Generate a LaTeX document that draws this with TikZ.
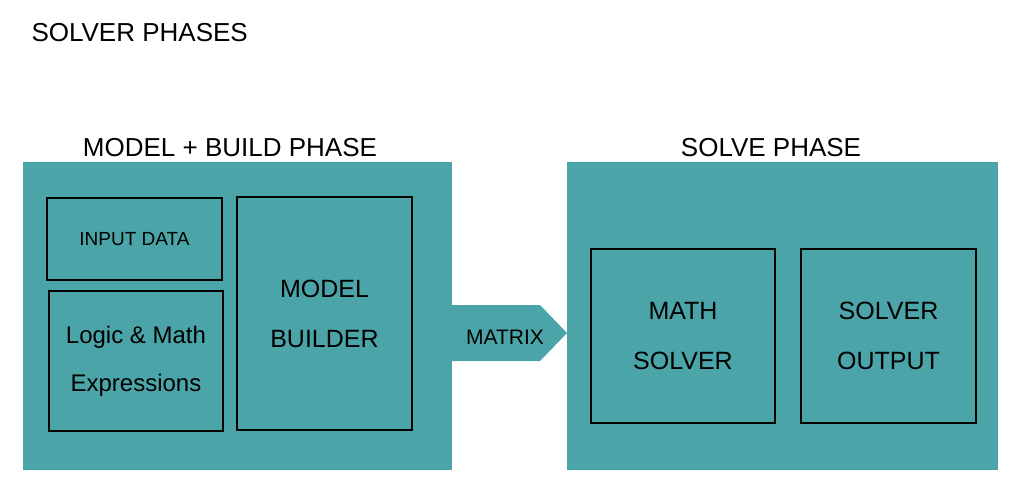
\documentclass[tikz,border=0pt]{standalone}
\usepackage{fontspec}
\setmainfont{Liberation Sans}
\definecolor{teal1}{HTML}{4BA5A8}
\begin{document}
\begin{tikzpicture}[x=1pt,y=-1pt,
  panel/.style={fill=teal1,draw=none},
  box/.style={draw=black,line width=1.2pt,align=center,font=\fontsize{25}{30}\selectfont},
  head/.style={font=\fontsize{26}{30}\selectfont}]
\useasboundingbox (0,0) rectangle (1024,496);
\node[head,anchor=west] (title) at (28,33) {SOLVER PHASES};
\fill[panel] (23,162) rectangle (452,470);
\fill[panel] (567,162) rectangle (998,470);
\node[head] (lh) at (230,148) {MODEL + BUILD PHASE};
\node[head] (rh) at (771,148) {SOLVE PHASE};
\fill[teal1] (450,305) -- (540,305) -- (567,333) -- (540,361) -- (450,361) -- cycle;
\node[font=\fontsize{21}{25}\selectfont] (mx) at (505,337) {MATRIX};
\draw[box] (47,198) rectangle (222,280) node[midway,font=\fontsize{19}{23}\selectfont] (in) {INPUT DATA};
\draw[box] (49,291) rectangle (223,431) node[midway,align=center,font=\fontsize{24}{48}\selectfont] (lg) {Logic \& Math\\Expressions};
\draw[box] (237,197) rectangle (412,430) node[midway,align=center,font=\fontsize{25}{50}\selectfont] (mb) {MODEL\\BUILDER};
\draw[box] (591,249) rectangle (775,423) node[midway,align=center,font=\fontsize{25}{50}\selectfont] (ms) {MATH\\SOLVER};
\draw[box] (801,249) rectangle (976,423) node[midway,align=center,font=\fontsize{25}{50}\selectfont] (so) {SOLVER\\OUTPUT};
\end{tikzpicture}
\end{document}
